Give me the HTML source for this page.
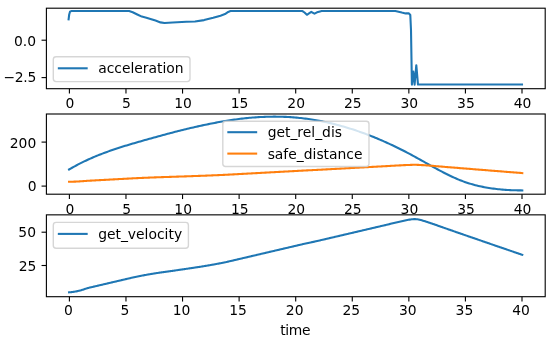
<!DOCTYPE html>
<html><head><meta charset="utf-8"><title>plot</title><style>html,body{margin:0;padding:0;background:#fff}</style></head><body>
<svg width="550" height="339" viewBox="0 0 550 339" style="display:block" font-family="'DejaVu Sans', 'Liberation Sans', sans-serif" font-size="13.89px" fill="#000">
<rect width="550" height="339" fill="#fff"/>
<clipPath id="c0"><rect x="46.4" y="8.2" width="498.80000000000007" height="80.5"/></clipPath>
<polyline points="68.60,19.40 69.20,14.50 70.00,11.70 71.20,11.05 129.10,11.05 132.70,12.30 137.30,14.50 141.80,16.60 146.40,17.70 150.50,18.90 155.50,20.60 160.50,22.40 164.50,23.00 172.70,22.50 186.40,21.80 195.00,21.50 204.10,20.10 213.20,17.80 220.50,15.70 225.00,14.10 228.20,11.90 230.50,11.05 302.50,11.05 304.50,12.50 306.90,14.80 309.00,13.40 311.30,11.80 313.00,12.80 314.50,13.70 317.00,12.30 320.00,11.40 321.60,11.05 395.30,11.05 401.80,12.60 405.60,13.40 408.90,13.30 410.30,15.00 411.00,30.00 411.90,84.60 413.30,71.50 414.60,84.60 416.30,65.20 418.00,84.55 522.00,84.55" fill="none" stroke="#1f77b4" stroke-width="2.08" stroke-linejoin="round" stroke-linecap="square" />
<line x1="69.40" y1="88.7" x2="69.40" y2="93.56" stroke="#000" stroke-width="1.11"/>
<text x="69.90" y="107.60" text-anchor="middle">0</text>
<line x1="125.97" y1="88.7" x2="125.97" y2="93.56" stroke="#000" stroke-width="1.11"/>
<text x="126.47" y="107.60" text-anchor="middle">5</text>
<line x1="182.55" y1="88.7" x2="182.55" y2="93.56" stroke="#000" stroke-width="1.11"/>
<text x="183.05" y="107.60" text-anchor="middle">10</text>
<line x1="239.12" y1="88.7" x2="239.12" y2="93.56" stroke="#000" stroke-width="1.11"/>
<text x="239.62" y="107.60" text-anchor="middle">15</text>
<line x1="295.70" y1="88.7" x2="295.70" y2="93.56" stroke="#000" stroke-width="1.11"/>
<text x="296.20" y="107.60" text-anchor="middle">20</text>
<line x1="352.27" y1="88.7" x2="352.27" y2="93.56" stroke="#000" stroke-width="1.11"/>
<text x="352.77" y="107.60" text-anchor="middle">25</text>
<line x1="408.85" y1="88.7" x2="408.85" y2="93.56" stroke="#000" stroke-width="1.11"/>
<text x="409.35" y="107.60" text-anchor="middle">30</text>
<line x1="465.42" y1="88.7" x2="465.42" y2="93.56" stroke="#000" stroke-width="1.11"/>
<text x="465.92" y="107.60" text-anchor="middle">35</text>
<line x1="522.00" y1="88.7" x2="522.00" y2="93.56" stroke="#000" stroke-width="1.11"/>
<text x="522.50" y="107.60" text-anchor="middle">40</text>
<line x1="41.54" y1="40.2" x2="46.4" y2="40.2" stroke="#000" stroke-width="1.11"/>
<text x="36.08" y="46.20" text-anchor="end">0.0</text>
<line x1="41.54" y1="77.6" x2="46.4" y2="77.6" stroke="#000" stroke-width="1.11"/>
<text x="35.98" y="82.20" text-anchor="end" letter-spacing="-0.3">−2.5</text>
<rect x="46.4" y="8.2" width="498.80" height="80.50" fill="none" stroke="#000" stroke-width="1.11"/>
<rect x="53.3" y="56.8" width="136.7" height="24.8" rx="2.8" ry="2.8" fill="#fff" fill-opacity="0.8" stroke="#ccc" stroke-opacity="0.8" stroke-width="1.39"/>
<line x1="58.86" y1="68.3" x2="86.64" y2="68.3" stroke="#1f77b4" stroke-width="2.08" stroke-linecap="square"/>
<text x="98.15" y="73.40">acceleration</text>
<polyline points="69.07,169.47 70.59,168.59 72.10,167.73 73.62,166.88 75.13,166.06 76.65,165.25 78.16,164.45 79.68,163.67 81.20,162.91 82.71,162.16 84.23,161.42 85.74,160.70 87.26,160.00 88.78,159.30 90.29,158.62 91.81,157.96 93.32,157.30 94.84,156.66 96.35,156.03 97.87,155.41 99.39,154.80 100.90,154.20 102.42,153.62 103.93,153.04 105.45,152.47 106.97,151.91 108.48,151.37 110.00,150.83 111.51,150.30 113.03,149.77 114.54,149.26 116.06,148.75 117.58,148.25 119.09,147.76 120.61,147.27 122.12,146.79 123.64,146.32 125.16,145.85 126.67,145.39 128.19,144.93 129.70,144.47 131.22,144.02 132.73,143.58 134.25,143.14 135.77,142.70 137.28,142.26 138.80,141.83 140.31,141.40 141.83,140.97 143.35,140.54 144.86,140.11 146.38,139.69 147.89,139.27 149.41,138.84 150.92,138.42 152.44,137.99 153.96,137.57 155.47,137.14 156.99,136.72 158.50,136.31 160.02,135.89 161.53,135.47 163.05,135.06 164.57,134.65 166.08,134.25 167.60,133.84 169.11,133.44 170.63,133.04 172.15,132.64 173.66,132.25 175.18,131.86 176.69,131.47 178.21,131.08 179.72,130.70 181.24,130.32 182.76,129.95 184.27,129.57 185.79,129.20 187.30,128.84 188.82,128.47 190.34,128.11 191.85,127.76 193.37,127.41 194.88,127.06 196.40,126.71 197.91,126.37 199.43,126.04 200.95,125.70 202.46,125.38 203.98,125.05 205.49,124.73 207.01,124.42 208.53,124.11 210.04,123.80 211.56,123.50 213.07,123.21 214.59,122.92 216.10,122.63 217.62,122.35 219.14,122.07 220.65,121.80 222.17,121.54 223.68,121.28 225.20,121.03 226.72,120.78 228.23,120.54 229.75,120.31 231.26,120.08 232.78,119.85 234.29,119.64 235.81,119.43 237.33,119.22 238.84,119.03 240.36,118.84 241.87,118.65 243.39,118.47 244.91,118.30 246.42,118.14 247.94,117.99 249.45,117.84 250.97,117.70 252.48,117.58 254.00,117.46 255.52,117.35 257.03,117.25 258.55,117.15 260.06,117.07 261.58,116.99 263.09,116.92 264.61,116.86 266.13,116.80 267.64,116.76 269.16,116.72 270.67,116.69 272.19,116.67 273.71,116.66 275.22,116.66 276.74,116.67 278.25,116.68 279.77,116.71 281.28,116.74 282.80,116.78 284.32,116.84 285.83,116.90 287.35,116.97 288.86,117.05 290.38,117.15 291.90,117.25 293.41,117.36 294.93,117.48 296.44,117.61 297.96,117.75 299.47,117.91 300.99,118.07 302.51,118.24 304.02,118.42 305.54,118.61 307.05,118.82 308.57,119.03 310.09,119.25 311.60,119.48 313.12,119.72 314.63,119.98 316.15,120.24 317.66,120.51 319.18,120.79 320.70,121.08 322.21,121.38 323.73,121.69 325.24,122.01 326.76,122.34 328.28,122.67 329.79,123.02 331.31,123.38 332.82,123.75 334.34,124.12 335.85,124.51 337.37,124.90 338.89,125.31 340.40,125.72 341.92,126.14 343.43,126.57 344.95,127.01 346.46,127.46 347.98,127.92 349.50,128.39 351.01,128.87 352.53,129.35 354.04,129.85 355.56,130.35 357.08,130.87 358.59,131.39 360.11,131.92 361.62,132.46 363.14,133.01 364.65,133.56 366.17,134.13 367.69,134.70 369.20,135.29 370.72,135.88 372.23,136.48 373.75,137.09 375.27,137.70 376.78,138.33 378.30,138.96 379.81,139.61 381.33,140.26 382.84,140.92 384.36,141.58 385.88,142.26 387.39,142.95 388.91,143.64 390.42,144.34 391.94,145.05 393.46,145.76 394.97,146.49 396.49,147.22 398.00,147.96 399.52,148.71 401.03,149.47 402.55,150.24 404.07,151.01 405.58,151.79 407.10,152.58 408.61,153.38 410.13,154.18 411.65,154.99 413.16,155.81 414.68,156.64 416.19,157.47 417.71,158.31 419.22,159.16 420.74,160.00 422.26,160.85 423.77,161.70 425.29,162.56 426.80,163.41 428.32,164.26 429.84,165.11 431.35,165.95 432.87,166.79 434.38,167.63 435.90,168.46 437.41,169.28 438.93,170.10 440.45,170.91 441.96,171.70 443.48,172.49 444.99,173.27 446.51,174.03 448.02,174.78 449.54,175.52 451.06,176.24 452.57,176.95 454.09,177.63 455.60,178.31 457.12,178.96 458.64,179.59 460.15,180.20 461.67,180.79 463.18,181.36 464.70,181.91 466.21,182.43 467.73,182.93 469.25,183.42 470.76,183.88 472.28,184.32 473.79,184.74 475.31,185.14 476.83,185.53 478.34,185.90 479.86,186.24 481.37,186.58 482.89,186.89 484.40,187.19 485.92,187.47 487.44,187.73 488.95,187.98 490.47,188.22 491.98,188.44 493.50,188.64 495.02,188.84 496.53,189.02 498.05,189.18 499.56,189.34 501.08,189.48 502.59,189.61 504.11,189.73 505.63,189.84 507.14,189.93 508.66,190.02 510.17,190.10 511.69,190.17 513.21,190.23 514.72,190.28 516.24,190.32 517.75,190.36 519.27,190.39 520.78,190.41 522.30,190.43" fill="none" stroke="#1f77b4" stroke-width="2.08" stroke-linejoin="round" stroke-linecap="square" />
<polyline points="69.07,181.80 69.67,181.78 70.28,181.76 70.88,181.75 71.49,181.73 72.09,181.71 72.70,181.70 73.30,181.68 73.91,181.66 74.51,181.64 75.12,181.61 75.72,181.59 76.32,181.56 76.93,181.54 77.53,181.51 78.14,181.47 78.74,181.44 79.35,181.41 79.95,181.37 80.56,181.33 81.16,181.29 81.76,181.25 82.37,181.21 82.97,181.16 83.58,181.12 84.18,181.07 84.79,181.02 85.39,180.97 86.00,180.93 86.60,180.88 87.21,180.83 87.81,180.79 88.41,180.75 89.02,180.72 89.62,180.69 90.23,180.66 90.83,180.62 91.44,180.59 92.04,180.56 92.65,180.53 93.25,180.49 93.85,180.46 94.46,180.43 95.06,180.39 95.67,180.36 96.27,180.33 96.88,180.30 97.48,180.26 98.09,180.23 98.69,180.20 99.30,180.16 99.90,180.13 100.50,180.10 101.11,180.07 101.71,180.03 102.32,180.00 102.92,179.97 103.53,179.93 104.13,179.90 104.74,179.87 105.34,179.84 105.94,179.80 106.55,179.77 107.15,179.74 107.76,179.70 108.36,179.67 108.97,179.64 109.57,179.61 110.18,179.57 110.78,179.54 111.39,179.51 111.99,179.48 112.59,179.44 113.20,179.41 113.80,179.38 114.41,179.34 115.01,179.31 115.62,179.28 116.22,179.25 116.83,179.21 117.43,179.18 118.04,179.15 118.64,179.11 119.24,179.08 119.85,179.05 120.45,179.02 121.06,178.98 121.66,178.95 122.27,178.92 122.87,178.88 123.48,178.85 124.08,178.82 124.68,178.79 125.29,178.75 125.89,178.72 126.50,178.69 127.10,178.66 127.71,178.62 128.31,178.59 128.92,178.56 129.52,178.52 130.13,178.49 130.73,178.46 131.33,178.43 131.94,178.40 132.54,178.36 133.15,178.33 133.75,178.30 134.36,178.27 134.96,178.24 135.57,178.21 136.17,178.18 136.77,178.15 137.38,178.12 137.98,178.09 138.59,178.07 139.19,178.04 139.80,178.01 140.40,177.98 141.01,177.95 141.61,177.93 142.22,177.90 142.82,177.87 143.42,177.85 144.03,177.82 144.63,177.80 145.24,177.77 145.84,177.75 146.45,177.72 147.05,177.69 147.66,177.67 148.26,177.65 148.87,177.62 149.47,177.60 150.07,177.57 150.68,177.55 151.28,177.52 151.89,177.50 152.49,177.48 153.10,177.45 153.70,177.43 154.31,177.41 154.91,177.39 155.51,177.36 156.12,177.34 156.72,177.32 157.33,177.30 157.93,177.28 158.54,177.26 159.14,177.24 159.75,177.22 160.35,177.20 160.96,177.18 161.56,177.16 162.16,177.14 162.77,177.12 163.37,177.10 163.98,177.08 164.58,177.06 165.19,177.04 165.79,177.02 166.40,177.00 167.00,176.98 167.60,176.96 168.21,176.94 168.81,176.92 169.42,176.90 170.02,176.88 170.63,176.86 171.23,176.84 171.84,176.82 172.44,176.80 173.05,176.78 173.65,176.76 174.25,176.74 174.86,176.72 175.46,176.70 176.07,176.68 176.67,176.66 177.28,176.64 177.88,176.62 178.49,176.60 179.09,176.58 179.69,176.56 180.30,176.54 180.90,176.52 181.51,176.50 182.11,176.48 182.72,176.46 183.32,176.44 183.93,176.42 184.53,176.40 185.14,176.38 185.74,176.36 186.34,176.34 186.95,176.31 187.55,176.29 188.16,176.27 188.76,176.25 189.37,176.23 189.97,176.21 190.58,176.19 191.18,176.17 191.79,176.15 192.39,176.13 192.99,176.11 193.60,176.08 194.20,176.06 194.81,176.04 195.41,176.02 196.02,176.00 196.62,175.98 197.23,175.96 197.83,175.94 198.43,175.91 199.04,175.89 199.64,175.87 200.25,175.85 200.85,175.83 201.46,175.81 202.06,175.78 202.67,175.76 203.27,175.74 203.88,175.72 204.48,175.69 205.08,175.67 205.69,175.65 206.29,175.62 206.90,175.60 207.50,175.58 208.11,175.55 208.71,175.53 209.32,175.51 209.92,175.48 210.52,175.46 211.13,175.43 211.73,175.41 212.34,175.38 212.94,175.36 213.55,175.33 214.15,175.31 214.76,175.28 215.36,175.26 215.97,175.23 216.57,175.20 217.17,175.18 217.78,175.15 218.38,175.12 218.99,175.10 219.59,175.07 220.20,175.04 220.80,175.01 221.41,174.99 222.01,174.96 222.62,174.93 223.22,174.90 223.82,174.87 224.43,174.84 225.03,174.82 225.64,174.79 226.24,174.76 226.85,174.72 227.45,174.69 228.06,174.66 228.66,174.63 229.26,174.60 229.87,174.57 230.47,174.53 231.08,174.50 231.68,174.47 232.29,174.43 232.89,174.40 233.50,174.37 234.10,174.34 234.71,174.30 235.31,174.27 235.91,174.24 236.52,174.20 237.12,174.17 237.73,174.14 238.33,174.11 238.94,174.07 239.54,174.04 240.15,174.01 240.75,173.98 241.35,173.94 241.96,173.91 242.56,173.88 243.17,173.84 243.77,173.81 244.38,173.78 244.98,173.75 245.59,173.71 246.19,173.68 246.80,173.65 247.40,173.61 248.00,173.58 248.61,173.55 249.21,173.52 249.82,173.48 250.42,173.45 251.03,173.42 251.63,173.38 252.24,173.35 252.84,173.32 253.44,173.29 254.05,173.25 254.65,173.22 255.26,173.19 255.86,173.16 256.47,173.12 257.07,173.09 257.68,173.06 258.28,173.02 258.89,172.99 259.49,172.96 260.09,172.93 260.70,172.89 261.30,172.86 261.91,172.83 262.51,172.79 263.12,172.76 263.72,172.73 264.33,172.70 264.93,172.66 265.54,172.63 266.14,172.60 266.74,172.56 267.35,172.53 267.95,172.50 268.56,172.47 269.16,172.43 269.77,172.40 270.37,172.37 270.98,172.33 271.58,172.30 272.18,172.27 272.79,172.24 273.39,172.20 274.00,172.17 274.60,172.14 275.21,172.11 275.81,172.07 276.42,172.04 277.02,172.01 277.63,171.97 278.23,171.94 278.83,171.91 279.44,171.88 280.04,171.84 280.65,171.81 281.25,171.78 281.86,171.74 282.46,171.71 283.07,171.68 283.67,171.65 284.27,171.61 284.88,171.58 285.48,171.55 286.09,171.51 286.69,171.48 287.30,171.45 287.90,171.42 288.51,171.38 289.11,171.35 289.72,171.32 290.32,171.28 290.92,171.25 291.53,171.22 292.13,171.19 292.74,171.15 293.34,171.12 293.95,171.09 294.55,171.06 295.16,171.02 295.76,170.99 296.37,170.96 296.97,170.92 297.57,170.89 298.18,170.86 298.78,170.83 299.39,170.79 299.99,170.76 300.60,170.73 301.20,170.69 301.81,170.66 302.41,170.63 303.01,170.60 303.62,170.56 304.22,170.53 304.83,170.50 305.43,170.47 306.04,170.44 306.64,170.41 307.25,170.38 307.85,170.35 308.46,170.32 309.06,170.29 309.66,170.26 310.27,170.23 310.87,170.20 311.48,170.17 312.08,170.14 312.69,170.11 313.29,170.08 313.90,170.05 314.50,170.02 315.10,169.99 315.71,169.96 316.31,169.92 316.92,169.89 317.52,169.86 318.13,169.83 318.73,169.80 319.34,169.77 319.94,169.73 320.55,169.70 321.15,169.67 321.75,169.64 322.36,169.60 322.96,169.57 323.57,169.54 324.17,169.50 324.78,169.47 325.38,169.44 325.99,169.41 326.59,169.37 327.19,169.34 327.80,169.31 328.40,169.28 329.01,169.24 329.61,169.21 330.22,169.18 330.82,169.14 331.43,169.11 332.03,169.08 332.64,169.05 333.24,169.01 333.84,168.98 334.45,168.95 335.05,168.91 335.66,168.88 336.26,168.85 336.87,168.82 337.47,168.78 338.08,168.75 338.68,168.72 339.29,168.68 339.89,168.65 340.49,168.62 341.10,168.59 341.70,168.55 342.31,168.52 342.91,168.49 343.52,168.45 344.12,168.42 344.73,168.39 345.33,168.36 345.93,168.32 346.54,168.29 347.14,168.26 347.75,168.23 348.35,168.19 348.96,168.16 349.56,168.13 350.17,168.09 350.77,168.06 351.38,168.03 351.98,168.00 352.58,167.96 353.19,167.93 353.79,167.90 354.40,167.86 355.00,167.83 355.61,167.80 356.21,167.77 356.82,167.73 357.42,167.70 358.02,167.67 358.63,167.63 359.23,167.60 359.84,167.57 360.44,167.54 361.05,167.50 361.65,167.47 362.26,167.44 362.86,167.40 363.47,167.37 364.07,167.34 364.67,167.31 365.28,167.27 365.88,167.24 366.49,167.21 367.09,167.18 367.70,167.14 368.30,167.11 368.91,167.08 369.51,167.04 370.12,167.01 370.72,166.98 371.32,166.95 371.93,166.91 372.53,166.88 373.14,166.85 373.74,166.81 374.35,166.78 374.95,166.75 375.56,166.72 376.16,166.68 376.76,166.65 377.37,166.62 377.97,166.58 378.58,166.55 379.18,166.52 379.79,166.49 380.39,166.45 381.00,166.42 381.60,166.39 382.21,166.36 382.81,166.32 383.41,166.29 384.02,166.26 384.62,166.22 385.23,166.19 385.83,166.16 386.44,166.13 387.04,166.09 387.65,166.06 388.25,166.03 388.85,165.99 389.46,165.96 390.58,165.90 391.69,165.83 392.81,165.77 393.92,165.70 395.04,165.64 396.16,165.58 397.27,165.52 398.39,165.46 399.51,165.40 400.62,165.34 401.74,165.28 402.86,165.22 403.97,165.16 405.09,165.11 406.20,165.05 407.32,165.01 408.44,164.96 409.55,164.92 410.67,164.88 411.79,164.84 412.90,164.81 414.02,164.80 415.13,164.80 416.25,164.82 417.37,164.85 418.48,164.88 419.60,164.94 420.72,165.01 421.83,165.09 422.95,165.16 424.06,165.23 425.18,165.31 426.30,165.40 427.41,165.48 428.53,165.56 429.65,165.65 430.76,165.73 431.88,165.82 433.00,165.91 434.11,166.00 435.23,166.09 436.34,166.19 437.46,166.28 438.58,166.37 439.69,166.46 440.81,166.55 441.93,166.64 443.04,166.74 444.16,166.83 445.27,166.92 446.39,167.01 447.51,167.10 448.62,167.19 449.74,167.28 450.86,167.37 451.97,167.46 453.09,167.55 454.21,167.64 455.32,167.73 456.44,167.82 457.55,167.91 458.67,168.00 459.79,168.09 460.90,168.18 462.02,168.27 463.14,168.36 464.25,168.45 465.37,168.54 466.48,168.63 467.60,168.72 468.72,168.81 469.83,168.90 470.95,168.99 472.07,169.08 473.18,169.17 474.30,169.26 475.42,169.35 476.53,169.44 477.65,169.52 478.76,169.61 479.88,169.70 481.00,169.79 482.11,169.88 483.23,169.97 484.35,170.06 485.46,170.15 486.58,170.24 487.69,170.33 488.81,170.42 489.93,170.51 491.04,170.60 492.16,170.69 493.28,170.78 494.39,170.87 495.51,170.96 496.62,171.04 497.74,171.13 498.86,171.22 499.97,171.31 501.09,171.40 502.21,171.49 503.32,171.58 504.44,171.67 505.56,171.75 506.67,171.84 507.79,171.93 508.90,172.02 510.02,172.11 511.14,172.20 512.25,172.29 513.37,172.37 514.49,172.46 515.60,172.55 516.72,172.64 517.83,172.73 518.95,172.81 520.07,172.90 521.18,172.99 522.30,173.08" fill="none" stroke="#ff7f0e" stroke-width="2.08" stroke-linejoin="round" stroke-linecap="square" />
<line x1="69.40" y1="194.2" x2="69.40" y2="199.06" stroke="#000" stroke-width="1.11"/>
<text x="70.00" y="213.80" text-anchor="middle">0</text>
<line x1="125.97" y1="194.2" x2="125.97" y2="199.06" stroke="#000" stroke-width="1.11"/>
<text x="126.57" y="213.80" text-anchor="middle">5</text>
<line x1="182.55" y1="194.2" x2="182.55" y2="199.06" stroke="#000" stroke-width="1.11"/>
<text x="183.15" y="213.80" text-anchor="middle">10</text>
<line x1="239.12" y1="194.2" x2="239.12" y2="199.06" stroke="#000" stroke-width="1.11"/>
<text x="239.72" y="213.80" text-anchor="middle">15</text>
<line x1="295.70" y1="194.2" x2="295.70" y2="199.06" stroke="#000" stroke-width="1.11"/>
<text x="296.30" y="213.80" text-anchor="middle">20</text>
<line x1="352.27" y1="194.2" x2="352.27" y2="199.06" stroke="#000" stroke-width="1.11"/>
<text x="352.88" y="213.80" text-anchor="middle">25</text>
<line x1="408.85" y1="194.2" x2="408.85" y2="199.06" stroke="#000" stroke-width="1.11"/>
<text x="409.45" y="213.80" text-anchor="middle">30</text>
<line x1="465.42" y1="194.2" x2="465.42" y2="199.06" stroke="#000" stroke-width="1.11"/>
<text x="466.02" y="213.80" text-anchor="middle">35</text>
<line x1="522.00" y1="194.2" x2="522.00" y2="199.06" stroke="#000" stroke-width="1.11"/>
<text x="522.60" y="213.80" text-anchor="middle">40</text>
<line x1="41.54" y1="142.1" x2="46.4" y2="142.1" stroke="#000" stroke-width="1.11"/>
<text x="36.28" y="147.90" text-anchor="end">200</text>
<line x1="41.54" y1="186.1" x2="46.4" y2="186.1" stroke="#000" stroke-width="1.11"/>
<text x="36.48" y="191.40" text-anchor="end">0</text>
<rect x="46.4" y="114.0" width="498.80" height="80.20" fill="none" stroke="#000" stroke-width="1.11"/>
<rect x="222.8" y="121.3" width="146.2" height="45.2" rx="2.8" ry="2.8" fill="#fff" fill-opacity="0.8" stroke="#ccc" stroke-opacity="0.8" stroke-width="1.39"/>
<line x1="228.36" y1="132.2" x2="256.14" y2="132.2" stroke="#1f77b4" stroke-width="2.08" stroke-linecap="square"/>
<text x="267.65" y="137.30">get_rel_dis</text>
<line x1="228.36" y1="153.6" x2="256.14" y2="153.6" stroke="#ff7f0e" stroke-width="2.08" stroke-linecap="square"/>
<text x="267.65" y="158.70">safe_distance</text>
<polyline points="69.07,292.40 69.67,292.31 70.28,292.24 70.88,292.18 71.49,292.10 72.09,292.03 72.70,291.95 73.30,291.87 73.91,291.78 74.51,291.69 75.12,291.59 75.72,291.49 76.32,291.38 76.93,291.26 77.53,291.13 78.14,291.00 78.74,290.86 79.35,290.71 79.95,290.55 80.56,290.38 81.16,290.21 81.76,290.03 82.37,289.85 82.97,289.66 83.58,289.46 84.18,289.26 84.79,289.05 85.39,288.84 86.00,288.63 86.60,288.42 87.21,288.20 87.81,288.04 88.41,287.90 89.02,287.75 89.62,287.61 90.23,287.47 90.83,287.33 91.44,287.19 92.04,287.05 92.65,286.91 93.25,286.76 93.85,286.62 94.46,286.48 95.06,286.34 95.67,286.20 96.27,286.06 96.88,285.92 97.48,285.77 98.09,285.63 98.69,285.49 99.30,285.35 99.90,285.21 100.50,285.07 101.11,284.93 101.71,284.78 102.32,284.64 102.92,284.50 103.53,284.36 104.13,284.22 104.74,284.08 105.34,283.94 105.94,283.79 106.55,283.65 107.15,283.51 107.76,283.37 108.36,283.23 108.97,283.09 109.57,282.95 110.18,282.80 110.78,282.66 111.39,282.52 111.99,282.38 112.59,282.24 113.20,282.10 113.80,281.96 114.41,281.81 115.01,281.67 115.62,281.53 116.22,281.39 116.83,281.25 117.43,281.11 118.04,280.97 118.64,280.82 119.24,280.68 119.85,280.54 120.45,280.40 121.06,280.26 121.66,280.12 122.27,279.98 122.87,279.83 123.48,279.69 124.08,279.55 124.68,279.41 125.29,279.27 125.89,279.13 126.50,278.99 127.10,278.84 127.71,278.70 128.31,278.56 128.92,278.42 129.52,278.28 130.13,278.14 130.73,278.00 131.33,277.86 131.94,277.72 132.54,277.59 133.15,277.45 133.75,277.32 134.36,277.19 134.96,277.06 135.57,276.93 136.17,276.80 136.77,276.67 137.38,276.55 137.98,276.42 138.59,276.30 139.19,276.18 139.80,276.06 140.40,275.94 141.01,275.82 141.61,275.71 142.22,275.59 142.82,275.48 143.42,275.37 144.03,275.26 144.63,275.14 145.24,275.03 145.84,274.92 146.45,274.81 147.05,274.71 147.66,274.60 148.26,274.49 148.87,274.38 149.47,274.28 150.07,274.17 150.68,274.07 151.28,273.97 151.89,273.87 152.49,273.77 153.10,273.67 153.70,273.57 154.31,273.47 154.91,273.37 155.51,273.28 156.12,273.18 156.72,273.09 157.33,273.00 157.93,272.91 158.54,272.82 159.14,272.73 159.75,272.64 160.35,272.55 160.96,272.47 161.56,272.38 162.16,272.29 162.77,272.21 163.37,272.13 163.98,272.04 164.58,271.96 165.19,271.87 165.79,271.79 166.40,271.71 167.00,271.62 167.60,271.54 168.21,271.45 168.81,271.37 169.42,271.28 170.02,271.20 170.63,271.11 171.23,271.03 171.84,270.94 172.44,270.86 173.05,270.77 173.65,270.69 174.25,270.60 174.86,270.51 175.46,270.43 176.07,270.34 176.67,270.25 177.28,270.17 177.88,270.08 178.49,269.99 179.09,269.90 179.69,269.82 180.30,269.73 180.90,269.64 181.51,269.55 182.11,269.47 182.72,269.38 183.32,269.29 183.93,269.20 184.53,269.11 185.14,269.02 185.74,268.93 186.34,268.84 186.95,268.76 187.55,268.67 188.16,268.58 188.76,268.49 189.37,268.40 189.97,268.31 190.58,268.22 191.18,268.13 191.79,268.04 192.39,267.95 192.99,267.86 193.60,267.77 194.20,267.68 194.81,267.58 195.41,267.49 196.02,267.40 196.62,267.31 197.23,267.22 197.83,267.13 198.43,267.03 199.04,266.94 199.64,266.85 200.25,266.75 200.85,266.66 201.46,266.56 202.06,266.47 202.67,266.37 203.27,266.27 203.88,266.18 204.48,266.08 205.08,265.98 205.69,265.88 206.29,265.78 206.90,265.68 207.50,265.58 208.11,265.48 208.71,265.37 209.32,265.27 209.92,265.17 210.52,265.06 211.13,264.96 211.73,264.85 212.34,264.74 212.94,264.63 213.55,264.52 214.15,264.42 214.76,264.30 215.36,264.19 215.97,264.08 216.57,263.97 217.17,263.85 217.78,263.74 218.38,263.62 218.99,263.51 219.59,263.39 220.20,263.27 220.80,263.15 221.41,263.03 222.01,262.91 222.62,262.79 223.22,262.67 223.82,262.54 224.43,262.42 225.03,262.29 225.64,262.16 226.24,262.04 226.85,261.90 227.45,261.77 228.06,261.63 228.66,261.50 229.26,261.36 229.87,261.22 230.47,261.08 231.08,260.94 231.68,260.79 232.29,260.65 232.89,260.51 233.50,260.37 234.10,260.23 234.71,260.09 235.31,259.95 235.91,259.80 236.52,259.66 237.12,259.52 237.73,259.38 238.33,259.24 238.94,259.10 239.54,258.96 240.15,258.81 240.75,258.67 241.35,258.53 241.96,258.39 242.56,258.25 243.17,258.11 243.77,257.97 244.38,257.82 244.98,257.68 245.59,257.54 246.19,257.40 246.80,257.26 247.40,257.12 248.00,256.98 248.61,256.83 249.21,256.69 249.82,256.55 250.42,256.41 251.03,256.27 251.63,256.13 252.24,255.99 252.84,255.84 253.44,255.70 254.05,255.56 254.65,255.42 255.26,255.28 255.86,255.14 256.47,255.00 257.07,254.85 257.68,254.71 258.28,254.57 258.89,254.43 259.49,254.29 260.09,254.15 260.70,254.01 261.30,253.86 261.91,253.72 262.51,253.58 263.12,253.44 263.72,253.30 264.33,253.16 264.93,253.02 265.54,252.87 266.14,252.73 266.74,252.59 267.35,252.45 267.95,252.31 268.56,252.17 269.16,252.03 269.77,251.88 270.37,251.74 270.98,251.60 271.58,251.46 272.18,251.32 272.79,251.18 273.39,251.04 274.00,250.89 274.60,250.75 275.21,250.61 275.81,250.47 276.42,250.33 277.02,250.19 277.63,250.05 278.23,249.91 278.83,249.76 279.44,249.62 280.04,249.48 280.65,249.34 281.25,249.20 281.86,249.06 282.46,248.92 283.07,248.77 283.67,248.63 284.27,248.49 284.88,248.35 285.48,248.21 286.09,248.07 286.69,247.93 287.30,247.78 287.90,247.64 288.51,247.50 289.11,247.36 289.72,247.22 290.32,247.08 290.92,246.94 291.53,246.79 292.13,246.65 292.74,246.51 293.34,246.37 293.95,246.23 294.55,246.09 295.16,245.95 295.76,245.80 296.37,245.66 296.97,245.52 297.57,245.38 298.18,245.24 298.78,245.10 299.39,244.96 299.99,244.81 300.60,244.67 301.20,244.53 301.81,244.39 302.41,244.25 303.01,244.11 303.62,243.97 304.22,243.83 304.83,243.70 305.43,243.57 306.04,243.44 306.64,243.31 307.25,243.19 307.85,243.06 308.46,242.94 309.06,242.81 309.66,242.68 310.27,242.54 310.87,242.41 311.48,242.27 312.08,242.13 312.69,242.00 313.29,241.87 313.90,241.73 314.50,241.61 315.10,241.48 315.71,241.34 316.31,241.21 316.92,241.08 317.52,240.94 318.13,240.81 318.73,240.67 319.34,240.53 319.94,240.39 320.55,240.25 321.15,240.11 321.75,239.97 322.36,239.83 322.96,239.69 323.57,239.54 324.17,239.40 324.78,239.26 325.38,239.12 325.99,238.98 326.59,238.84 327.19,238.70 327.80,238.55 328.40,238.41 329.01,238.27 329.61,238.13 330.22,237.99 330.82,237.85 331.43,237.71 332.03,237.56 332.64,237.42 333.24,237.28 333.84,237.14 334.45,237.00 335.05,236.86 335.66,236.72 336.26,236.57 336.87,236.43 337.47,236.29 338.08,236.15 338.68,236.01 339.29,235.87 339.89,235.73 340.49,235.58 341.10,235.44 341.70,235.30 342.31,235.16 342.91,235.02 343.52,234.88 344.12,234.74 344.73,234.59 345.33,234.45 345.93,234.31 346.54,234.17 347.14,234.03 347.75,233.89 348.35,233.75 348.96,233.60 349.56,233.46 350.17,233.32 350.77,233.18 351.38,233.04 351.98,232.90 352.58,232.76 353.19,232.62 353.79,232.47 354.40,232.33 355.00,232.19 355.61,232.05 356.21,231.91 356.82,231.77 357.42,231.63 358.02,231.48 358.63,231.34 359.23,231.20 359.84,231.06 360.44,230.92 361.05,230.78 361.65,230.64 362.26,230.49 362.86,230.35 363.47,230.21 364.07,230.07 364.67,229.93 365.28,229.79 365.88,229.65 366.49,229.50 367.09,229.36 367.70,229.22 368.30,229.08 368.91,228.94 369.51,228.80 370.12,228.66 370.72,228.51 371.32,228.37 371.93,228.23 372.53,228.09 373.14,227.95 373.74,227.81 374.35,227.67 374.95,227.52 375.56,227.38 376.16,227.24 376.76,227.10 377.37,226.96 377.97,226.82 378.58,226.68 379.18,226.53 379.79,226.39 380.39,226.25 381.00,226.11 381.60,225.97 382.21,225.83 382.81,225.69 383.41,225.54 384.02,225.40 384.62,225.26 385.23,225.12 385.83,224.98 386.44,224.84 387.04,224.70 387.65,224.55 388.25,224.41 388.85,224.27 389.46,224.13 390.58,223.85 391.69,223.57 392.81,223.29 393.92,223.02 395.04,222.75 396.16,222.48 397.27,222.22 398.39,221.97 399.51,221.71 400.62,221.46 401.74,221.20 402.86,220.94 403.97,220.69 405.09,220.44 406.20,220.22 407.32,220.01 408.44,219.83 409.55,219.65 410.67,219.46 411.79,219.30 412.90,219.18 414.02,219.11 415.13,219.11 416.25,219.19 417.37,219.32 418.48,219.47 419.60,219.72 420.72,220.03 421.83,220.35 422.95,220.67 424.06,221.00 425.18,221.34 426.30,221.69 427.41,222.05 428.53,222.42 429.65,222.78 430.76,223.15 431.88,223.53 433.00,223.92 434.11,224.31 435.23,224.71 436.34,225.10 437.46,225.50 438.58,225.90 439.69,226.29 440.81,226.68 441.93,227.07 443.04,227.47 444.16,227.86 445.27,228.25 446.39,228.64 447.51,229.03 448.62,229.42 449.74,229.82 450.86,230.21 451.97,230.60 453.09,230.99 454.21,231.38 455.32,231.77 456.44,232.16 457.55,232.55 458.67,232.94 459.79,233.33 460.90,233.71 462.02,234.10 463.14,234.49 464.25,234.87 465.37,235.26 466.48,235.64 467.60,236.03 468.72,236.41 469.83,236.80 470.95,237.18 472.07,237.57 473.18,237.95 474.30,238.34 475.42,238.72 476.53,239.10 477.65,239.49 478.76,239.87 479.88,240.26 481.00,240.64 482.11,241.03 483.23,241.41 484.35,241.80 485.46,242.19 486.58,242.57 487.69,242.96 488.81,243.34 489.93,243.73 491.04,244.12 492.16,244.50 493.28,244.89 494.39,245.27 495.51,245.66 496.62,246.04 497.74,246.42 498.86,246.81 499.97,247.19 501.09,247.57 502.21,247.96 503.32,248.34 504.44,248.72 505.56,249.10 506.67,249.48 507.79,249.87 508.90,250.25 510.02,250.63 511.14,251.01 512.25,251.39 513.37,251.77 514.49,252.15 515.60,252.53 516.72,252.91 517.83,253.29 518.95,253.66 520.07,254.04 521.18,254.42 522.30,254.80" fill="none" stroke="#1f77b4" stroke-width="2.08" stroke-linejoin="round" stroke-linecap="square" />
<line x1="69.40" y1="296.7" x2="69.40" y2="301.56" stroke="#000" stroke-width="1.11"/>
<text x="68.40" y="315.20" text-anchor="middle">0</text>
<line x1="125.97" y1="296.7" x2="125.97" y2="301.56" stroke="#000" stroke-width="1.11"/>
<text x="124.97" y="315.20" text-anchor="middle">5</text>
<line x1="182.55" y1="296.7" x2="182.55" y2="301.56" stroke="#000" stroke-width="1.11"/>
<text x="181.55" y="315.20" text-anchor="middle">10</text>
<line x1="239.12" y1="296.7" x2="239.12" y2="301.56" stroke="#000" stroke-width="1.11"/>
<text x="238.12" y="315.20" text-anchor="middle">15</text>
<line x1="295.70" y1="296.7" x2="295.70" y2="301.56" stroke="#000" stroke-width="1.11"/>
<text x="294.70" y="315.20" text-anchor="middle">20</text>
<line x1="352.27" y1="296.7" x2="352.27" y2="301.56" stroke="#000" stroke-width="1.11"/>
<text x="351.27" y="315.20" text-anchor="middle">25</text>
<line x1="408.85" y1="296.7" x2="408.85" y2="301.56" stroke="#000" stroke-width="1.11"/>
<text x="407.85" y="315.20" text-anchor="middle">30</text>
<line x1="465.42" y1="296.7" x2="465.42" y2="301.56" stroke="#000" stroke-width="1.11"/>
<text x="464.42" y="315.20" text-anchor="middle">35</text>
<line x1="522.00" y1="296.7" x2="522.00" y2="301.56" stroke="#000" stroke-width="1.11"/>
<text x="521.00" y="315.20" text-anchor="middle">40</text>
<line x1="41.54" y1="232.2" x2="46.4" y2="232.2" stroke="#000" stroke-width="1.11"/>
<text x="35.98" y="237.30" text-anchor="end">50</text>
<line x1="41.54" y1="265.5" x2="46.4" y2="265.5" stroke="#000" stroke-width="1.11"/>
<text x="36.38" y="270.60" text-anchor="end">25</text>
<rect x="46.4" y="214.85" width="498.80" height="81.85" fill="none" stroke="#000" stroke-width="1.11"/>
<rect x="53.3" y="222.4" width="135.1" height="25.8" rx="2.8" ry="2.8" fill="#fff" fill-opacity="0.8" stroke="#ccc" stroke-opacity="0.8" stroke-width="1.39"/>
<line x1="58.86" y1="233.9" x2="86.64" y2="233.9" stroke="#1f77b4" stroke-width="2.08" stroke-linecap="square"/>
<text x="98.15" y="239.00">get_velocity</text>
<text x="295.80" y="334.5" text-anchor="middle" letter-spacing="-0.35" dx="-0.6">time</text>
</svg>
</body></html>
